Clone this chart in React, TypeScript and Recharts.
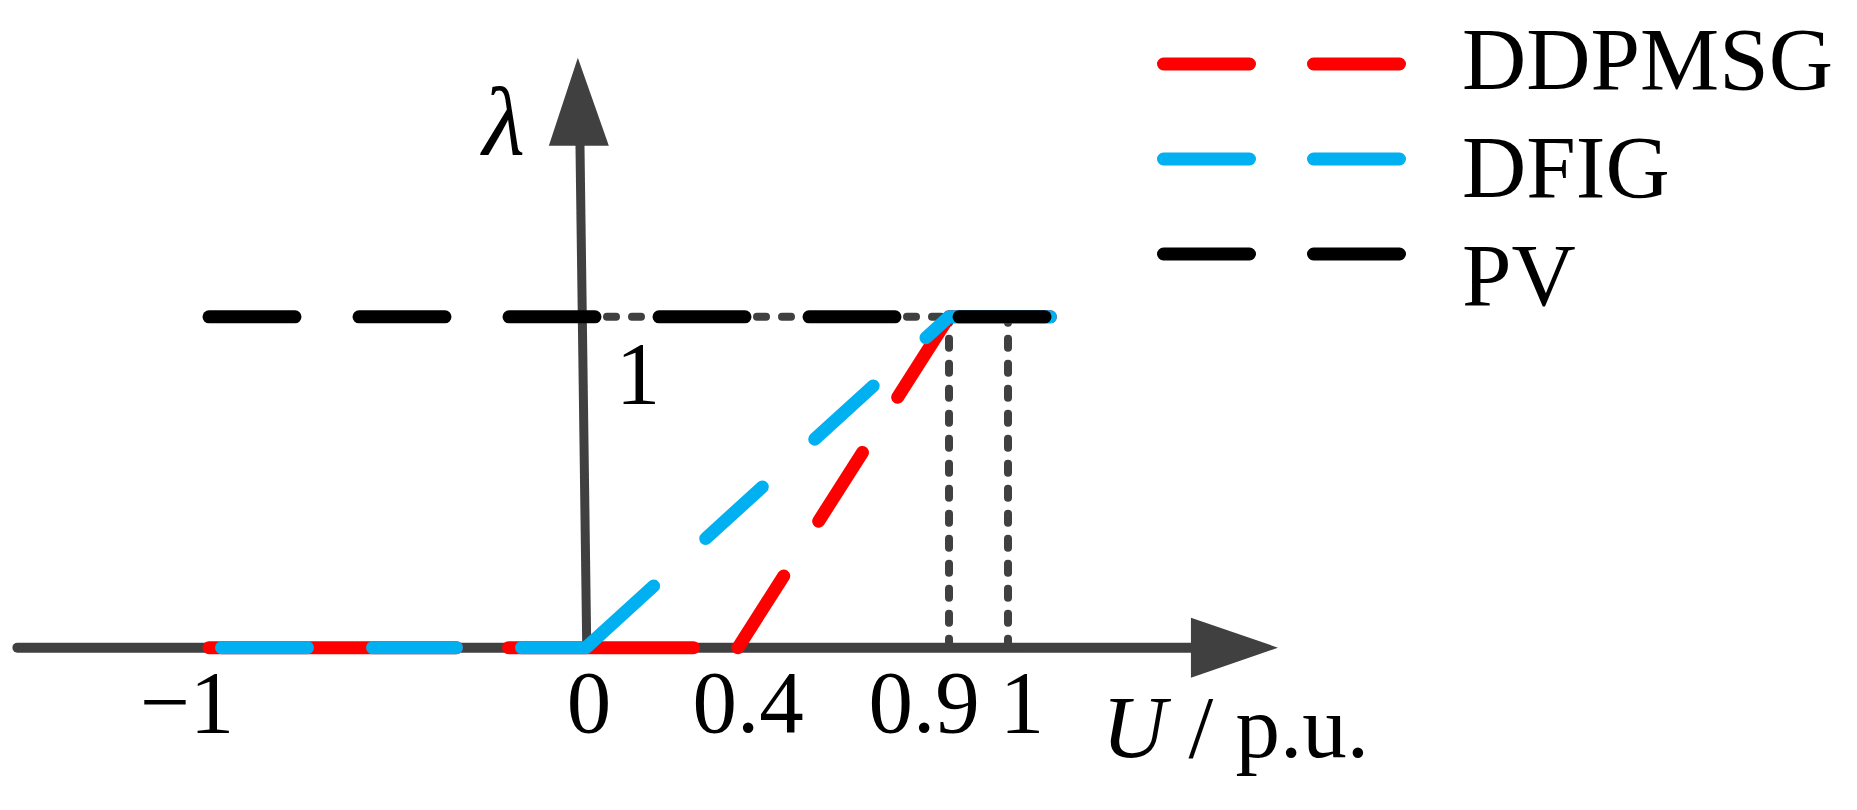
import { LineChart, Line, XAxis, YAxis, ReferenceLine, ReferenceDot, Legend } from 'recharts'

// lambda vs terminal voltage U (p.u.) for the three unit types (schematic)
const U_TICKS = [-1, 0, 0.4, 0.9, 1]
const U_TICK_LABELS = ['−1', '0', '0.4', '0.9', '1']

const DDPMSG_U = [-1, 0.4, 0.9, 1.1]
const DDPMSG_L = [0, 0, 1, 1]
const DFIG_U = [-1, 0, 0.9, 1.1]
const DFIG_L = [0, 0, 1, 1]
const PV_U = [-1, 1.1]
const PV_L = [1, 1]

const GUIDE_U = [0.9, 1] // dotted drop lines
const LAMBDA_TICK = 1

const W = 1857
const H = 810
const FONT = '"Liberation Serif", "Times New Roman", Times, serif'
const FS = 89
const RED = '#FF0000'
const BLUE = '#00B0F0'
const BLACK = '#000000'
const AXIS = '#404040'

// the figure is not to scale: the U axis is stretched piecewise
const U_STOPS: [number, number][] = [
    [-1.6, 0], [-1, 209], [0, 586], [0.4, 738], [0.9, 949], [1, 1008], [3, 1857],
]

function brokenScale(stops: [number, number][]): any {
    let dom = [stops[0][0], stops[stops.length - 1][0]]
    let rng = [0, 1]
    const p0 = stops[0][1]
    const p1 = stops[stops.length - 1][1]
    const scale: any = (u: any) => {
        const v = Number(u)
        if (!isFinite(v)) return NaN
        let i = 1
        while (i < stops.length - 1 && v > stops[i][0]) i++
        const [ua, pa] = stops[i - 1]
        const [ub, pb] = stops[i]
        const p = pa + ((pb - pa) * (v - ua)) / (ub - ua)
        return rng[0] + ((rng[1] - rng[0]) * (p - p0)) / (p1 - p0)
    }
    scale.domain = (d?: any) => {
        if (d === undefined) return dom.slice()
        dom = [...d]
        return scale
    }
    scale.range = (r?: any) => {
        if (r === undefined) return rng.slice()
        rng = [...r]
        return scale
    }
    scale.copy = () => brokenScale(stops).domain(dom).range(rng)
    scale.ticks = () => U_TICKS.slice()
    scale.tickFormat = () => (v: any) => String(v)
    return scale
}

const uScale = brokenScale(U_STOPS)

const toPoints = (us: number[], ls: number[]) => us.map((u, i) => ({ u, l: ls[i] }))

const ddpmsgData = toPoints(DDPMSG_U, DDPMSG_L)
const dfigData = toPoints(DFIG_U, DFIG_L)
const pvData = toPoints(PV_U, PV_L)

// dash layouts (path units, round caps add 6.5 each side)
const RED_DASH = '247.5 52 185 44.5 85 65 81.5 65.5 600'
const BLUE_DASH = '86 65 84 65 156 70.5 76.5 71 79 71.5 400 12.5'
const BLUE_OFFSET = 1224.5
const PV_DASH = '86 64'
const DOT = '9 16'

const TICK_DX = [-22, 3, 10, -25, 14]

function UTick({ x, y, payload }: any) {
    const i = U_TICKS.indexOf(payload.value)
    return (
        <text x={x + (TICK_DX[i] ?? 0)} y={y - 48} textAnchor="middle" fontSize={FS} fontFamily={FONT} fill="#000">
            {U_TICK_LABELS[i]}
        </text>
    )
}

function YArrow({ cx, cy }: any) {
    return (
        <g>
            <polygon points={`${cx - 1},${cy - 88} ${cx - 30},${cy} ${cx + 30},${cy}`} fill={AXIS} />
            <text x={cx - 75} y={cy + 8} textAnchor="middle" fontSize={98} fontStyle="italic" fontFamily={FONT} fill="#000">
                λ
            </text>
        </g>
    )
}

function XArrow({ cx, cy }: any) {
    return (
        <g>
            <polygon points={`${cx},${cy - 30} ${cx + 87},${cy} ${cx},${cy + 30}`} fill={AXIS} />
            <text x={cx - 89} y={cy + 109} fontSize={FS} fontFamily={FONT} fill="#000">
                <tspan fontStyle="italic">U</tspan>
                <tspan> / p.u.</tspan>
            </text>
        </g>
    )
}

function LambdaTick({ cx, cy }: any) {
    return (
        <text x={cx + 52} y={cy + 86} textAnchor="middle" fontSize={FS} fontFamily={FONT} fill="#000">
            {String(LAMBDA_TICK)}
        </text>
    )
}

function LegendBox({ payload }: any) {
    return (
        <svg width={W} height={H} style={{ position: 'absolute', left: 0, top: 0 }}>
            {(payload ?? []).map((p: any, i: number) => (
                <g key={p.value}>
                    <line
                        x1={1163.5}
                        x2={1401.5}
                        y1={64 + 95 * i}
                        y2={64 + 95 * i}
                        stroke={p.color}
                        strokeWidth={13}
                        strokeDasharray={PV_DASH}
                        strokeLinecap="round"
                    />
                    <text x={1462} y={89 + 108 * i} fontSize={FS} fontFamily={FONT} fill="#000">
                        {p.value}
                    </text>
                </g>
            ))}
        </svg>
    )
}

export default function App() {
    return (
        <div style={{ position: 'absolute', left: 0, top: 0, width: W, height: H, background: '#fff' }}>
            <LineChart width={W} height={H} margin={{ top: 19, right: 0, bottom: 29, left: 0 }}>
                <XAxis
                    type="number"
                    dataKey="u"
                    domain={[-1.6, 3]}
                    scale={uScale}
                    allowDataOverflow
                    ticks={U_TICKS}
                    interval={0}
                    tick={<UTick />}
                    axisLine={false}
                    tickLine={false}
                    tickSize={0}
                    tickMargin={0}
                    height={1}
                />
                <YAxis type="number" dataKey="l" domain={[-0.4, 1.9]} allowDataOverflow hide />

                {/* axes */}
                <ReferenceLine segment={[{ x: -1.55, y: 0 }, { x: 1.431, y: 0 }]} stroke={AXIS} strokeWidth={10} strokeLinecap="round" />
                <ReferenceLine segment={[{ x: 0.002, y: 0 }, { x: -0.016, y: 1.52 }]} stroke={AXIS} strokeWidth={9} />

                {/* dotted guides */}
                <ReferenceLine
                    segment={[{ x: 0, y: LAMBDA_TICK }, { x: GUIDE_U[1], y: LAMBDA_TICK }]}
                    stroke={AXIS}
                    strokeWidth={8}
                    strokeDasharray={DOT}
                    strokeDashoffset={4}
                    strokeLinecap="round"
                />
                {GUIDE_U.map((u) => (
                    <ReferenceLine
                        key={u}
                        segment={[{ x: u, y: 0 }, { x: u, y: LAMBDA_TICK }]}
                        stroke={AXIS}
                        strokeWidth={8}
                        strokeDasharray={DOT}
                        strokeLinecap="round"
                    />
                ))}

                <Line
                    data={ddpmsgData}
                    dataKey="l"
                    name="DDPMSG"
                    type="linear"
                    stroke={RED}
                    strokeWidth={13}
                    strokeDasharray={RED_DASH}
                    strokeLinecap="round"
                    strokeLinejoin="round"
                    dot={false}
                    activeDot={false}
                    isAnimationActive={false}
                />
                <Line
                    data={dfigData}
                    dataKey="l"
                    name="DFIG"
                    type="linear"
                    stroke={BLUE}
                    strokeWidth={13}
                    strokeDasharray={BLUE_DASH}
                    strokeDashoffset={BLUE_OFFSET}
                    strokeLinecap="round"
                    strokeLinejoin="round"
                    dot={false}
                    activeDot={false}
                    isAnimationActive={false}
                />
                <Line
                    data={pvData}
                    dataKey="l"
                    name="PV"
                    type="linear"
                    stroke={BLACK}
                    strokeWidth={13}
                    strokeDasharray={PV_DASH}
                    strokeLinecap="round"
                    dot={false}
                    activeDot={false}
                    isAnimationActive={false}
                />

                {/* arrows, axis titles and the lambda tick */}
                <ReferenceDot x={-0.019} y={1.517} r={1} shape={<YArrow />} />
                <ReferenceDot x={1.431} y={0} r={1} shape={<XArrow />} />
                <ReferenceDot x={0} y={LAMBDA_TICK} r={1} shape={<LambdaTick />} />

                <Legend
                    layout="vertical"
                    align="center"
                    verticalAlign="middle"
                    content={<LegendBox />}
                    wrapperStyle={{ left: 0, top: 0, width: W, height: H }}
                />
            </LineChart>
        </div>
    )
}
